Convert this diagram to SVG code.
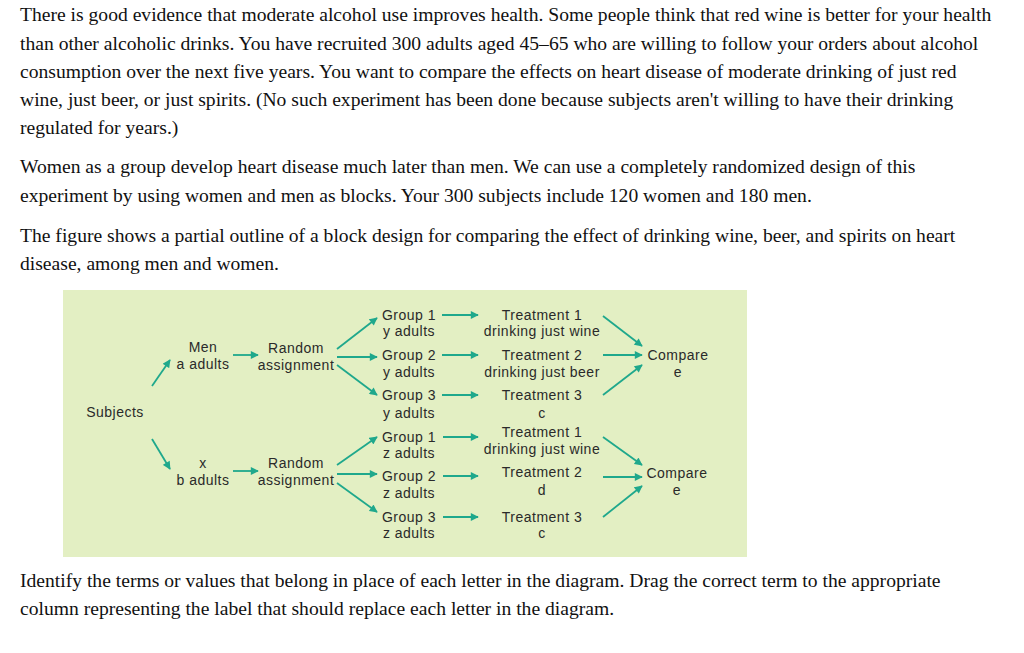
<svg xmlns="http://www.w3.org/2000/svg" width="1024" height="653" viewBox="0 0 1024 653">
<defs>
<style>
.p{font-family:"Liberation Serif","Times New Roman",serif;font-size:19.6px;fill:#111}
.d{font-family:"Liberation Sans",Arial,sans-serif;font-size:14px;letter-spacing:0.5px;fill:#2a2a2a;text-anchor:middle}
.c line{stroke:#1fa88c;stroke-width:1.8;marker-end:url(#ah)}
</style>
<marker id="ah" viewBox="0 0 10 10" refX="9" refY="5" markerWidth="9" markerHeight="8" orient="auto" markerUnits="userSpaceOnUse"><path d="M0,0 L10,5 L0,10 z" fill="#1fa88c"/></marker>
</defs>
<rect width="1024" height="653" fill="#fff"/>
<g id="text-top">
<text class="p" x="20" y="21">There is good evidence that moderate alcohol use improves health. Some people think that red wine is better for your health</text>
<text class="p" x="20" y="50">than other alcoholic drinks. You have recruited 300 adults aged 45–65 who are willing to follow your orders about alcohol</text>
<text class="p" x="20" y="78">consumption over the next five years. You want to compare the effects on heart disease of moderate drinking of just red</text>
<text class="p" x="20" y="106">wine, just beer, or just spirits. (No such experiment has been done because subjects aren't willing to have their drinking</text>
<text class="p" x="20" y="134">regulated for years.)</text>
<text class="p" x="20" y="173">Women as a group develop heart disease much later than men. We can use a completely randomized design of this</text>
<text class="p" x="20" y="202">experiment by using women and men as blocks. Your 300 subjects include 120 women and 180 men.</text>
<text class="p" x="20" y="242">The figure shows a partial outline of a block design for comparing the effect of drinking wine, beer, and spirits on heart</text>
<text class="p" x="20" y="270">disease, among men and women.</text>
</g>
<rect id="panel" x="63" y="290" width="684" height="267" fill="#e3efc3"/>
<g id="subjects"><text class="d" x="115" y="417">Subjects</text></g>
<g id="men"><text class="d" x="203" y="352">Men</text><text class="d" x="203" y="369">a adults</text></g>
<g id="women"><text class="d" x="203" y="468">x</text><text class="d" x="203" y="485">b adults</text></g>
<g id="random1"><text class="d" x="296" y="353">Random</text><text class="d" x="296" y="370">assignment</text></g>
<g id="random2"><text class="d" x="296" y="468">Random</text><text class="d" x="296" y="485">assignment</text></g>
<g id="g1m"><text class="d" x="409" y="320">Group 1</text><text class="d" x="409" y="336">y adults</text></g>
<g id="g2m"><text class="d" x="409" y="360">Group 2</text><text class="d" x="409" y="377">y adults</text></g>
<g id="g3m"><text class="d" x="409" y="400">Group 3</text><text class="d" x="409" y="418">y adults</text></g>
<g id="g1w"><text class="d" x="409" y="442">Group 1</text><text class="d" x="409" y="458">z adults</text></g>
<g id="g2w"><text class="d" x="409" y="481">Group 2</text><text class="d" x="409" y="498">z adults</text></g>
<g id="g3w"><text class="d" x="409" y="522">Group 3</text><text class="d" x="409" y="538">z adults</text></g>
<g id="t1m"><text class="d" x="542" y="320">Treatment 1</text><text class="d" x="542" y="336">drinking just wine</text></g>
<g id="t2m"><text class="d" x="542" y="360">Treatment 2</text><text class="d" x="542" y="377">drinking just beer</text></g>
<g id="t3m"><text class="d" x="542" y="400">Treatment 3</text><text class="d" x="542" y="418">c</text></g>
<g id="t1w"><text class="d" x="542" y="437">Treatment 1</text><text class="d" x="542" y="454">drinking just wine</text></g>
<g id="t2w"><text class="d" x="542" y="477">Treatment 2</text><text class="d" x="542" y="495">d</text></g>
<g id="t3w"><text class="d" x="542" y="522">Treatment 3</text><text class="d" x="542" y="538">c</text></g>
<g id="cm"><text class="d" x="678" y="360">Compare</text><text class="d" x="678" y="377">e</text></g>
<g id="cw"><text class="d" x="677" y="478">Compare</text><text class="d" x="677" y="495">e</text></g>
<g id="connectors" class="c">
<line x1="152" y1="386" x2="170" y2="360"/>
<line x1="152" y1="439" x2="170" y2="469"/>
<line x1="233" y1="355" x2="258" y2="355"/>
<line x1="233" y1="471" x2="258" y2="471"/>
<line x1="337" y1="349" x2="377" y2="318"/>
<line x1="337" y1="357" x2="377" y2="357"/>
<line x1="337" y1="365" x2="377" y2="395"/>
<line x1="337" y1="465" x2="377" y2="437"/>
<line x1="337" y1="474" x2="377" y2="474"/>
<line x1="337" y1="483" x2="377" y2="512"/>
<line x1="442" y1="315" x2="478" y2="315"/>
<line x1="442" y1="355" x2="478" y2="355"/>
<line x1="442" y1="395" x2="478" y2="395"/>
<line x1="443" y1="437" x2="478" y2="437"/>
<line x1="443" y1="476" x2="478" y2="476"/>
<line x1="443" y1="517" x2="478" y2="517"/>
<line x1="603" y1="316" x2="642" y2="346"/>
<line x1="603" y1="355" x2="642" y2="355"/>
<line x1="603" y1="395" x2="642" y2="365"/>
<line x1="603" y1="437" x2="642" y2="465"/>
<line x1="603" y1="477" x2="642" y2="477"/>
<line x1="603" y1="517" x2="642" y2="486"/>
</g>
<g id="text-bottom">
<text class="p" x="20" y="587">Identify the terms or values that belong in place of each letter in the diagram. Drag the correct term to the appropriate</text>
<text class="p" x="20" y="615">column representing the label that should replace each letter in the diagram.</text>
</g>
</svg>
